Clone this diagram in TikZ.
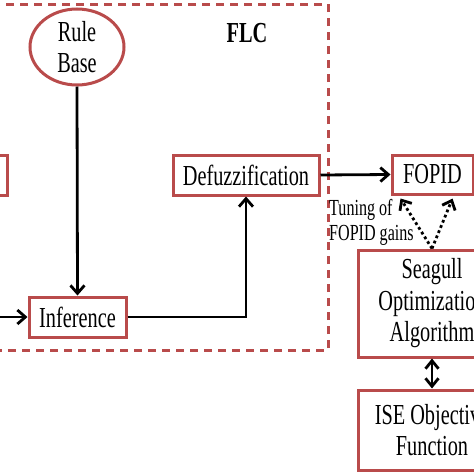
\documentclass[tikz,border=0pt]{standalone}
\usepackage{fontspec}
\setmainfont{Liberation Serif}[FakeStretch=0.7]
\usetikzlibrary{arrows.meta,shapes.geometric}
\definecolor{boxred}{RGB}{185,75,75}
\begin{document}
\begin{tikzpicture}[x=1pt,y=-1pt,
  box/.style={draw=boxred, line width=3pt, inner sep=0pt, align=center,
    font=\fontsize{29}{31.5}\selectfont},
  arr/.style={line width=2.8pt, -{Straight Barb[length=8pt,width=14pt]}},
  dotarr/.style={line width=2.8pt, dash pattern=on 2.8pt off 2.8pt,
    -{Straight Barb[length=8pt,width=14pt]}},
  dblarr/.style={line width=2.8pt,
    {Straight Barb[length=8pt,width=13pt]}-{Straight Barb[length=8pt,width=13pt]}},
  flcbox/.style={draw=boxred, line width=3pt, dash pattern=on 8pt off 6pt}]
\useasboundingbox (0,0) rectangle (474,474);
% FLC dashed frame
\draw[flcbox] (-10,4) rectangle (328,350);
\node[font=\fontsize{29}{31}\selectfont\bfseries, inner sep=0pt] (flc) at (247,33) {FLC};
% nodes
\node[box, ellipse, minimum width=94pt, minimum height=76pt] (rb) at (77,47) {Rule\\Base};
\node[box, minimum width=64pt, minimum height=40pt] (fuzz) at (-25,175) {};
\node[box, minimum width=97pt, minimum height=40pt] (inf) at (77.5,317) {Inference};
\node[box, minimum width=146pt, minimum height=40pt] (def) at (246,175) {Defuzzification};
\node[box, minimum width=81pt, minimum height=39pt] (fopid) at (432.5,174.5) {FOPID};
\node[box, minimum width=148pt, minimum height=107pt] (sga) at (432,303.5) {Seagull\\Optimization\\Algorithm};
\node[box, minimum width=148pt, minimum height=80pt] (ise) at (432,430) {ISE Objective\\Function};
\node[anchor=north west, align=left, inner sep=0pt, font=\fontsize{23}{25}\selectfont] (tune) at (329,199) {Tuning of\\FOPID gains};
% connectors
\coordinate (inp) at (-20,317);
\draw[arr] (inp) -- (inf.west);
\draw[arr] (rb.south) -- (inf.north);
\draw[arr] (inf.east) -| (def.south);
\draw[arr] (def.east) -- (fopid.west);
\draw[dotarr] (sga.north) -- ([xshift=-32pt,yshift=-3pt]fopid.south);
\draw[dotarr] (sga.north) -- ([xshift=20pt,yshift=-3pt]fopid.south);
\draw[dblarr] (sga.south) -- (ise.north);
\end{tikzpicture}
\end{document}
